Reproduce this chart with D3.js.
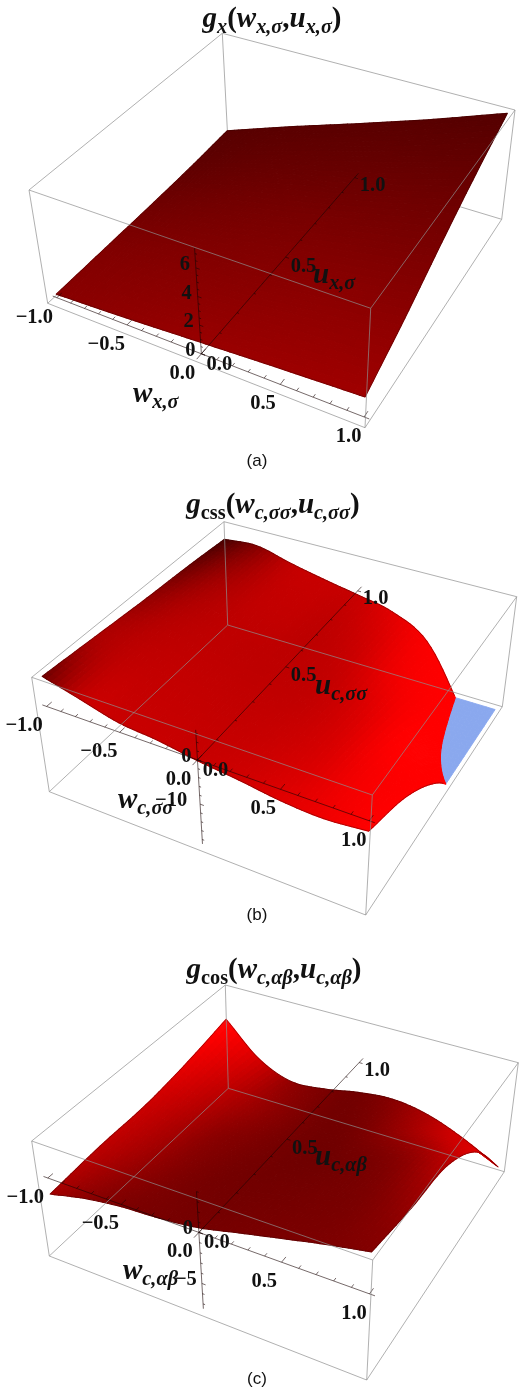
<!DOCTYPE html>
<html><head><meta charset="utf-8">
<script src="https://cdn.jsdelivr.net/npm/d3@7"></script>
<style>html,body{margin:0;padding:0;background:#fff}svg{display:block;filter:blur(.35px)}
text{font-family:"Liberation Serif",serif;font-weight:bold;fill:#111}</style></head><body>
<script>
// ---------- data ----------
const wTicks=[-1,-0.5,0,0.5,1];
const uTicks=[0,0.5,1];
const wGridCoarse=[-1,-0.5,0,0.5,1];
const wGridFine=[-1,-0.75,-0.5,-0.25,0,0.25,0.5,0.75,1];
const uGrid=[0,0.25,0.5,0.75,1];
const zTicksA=[0,2,4,6];
const zTicksB=[0,-10];
const zTicksC=[0,-5];
const surfaceA=[
 [0.25,0.5,0.8,1.1,1.36],
 [0.3,1.0,1.6,2.3,2.9],
 [0.35,1.45,2.45,3.55,4.7],
 [0.45,1.95,3.3,4.75,6.4],
 [0.65,2.4,4.1,5.9,7.9]];
const surfaceB=[
 [6.98,4.59,2.21,1.28,-0.18,-1.24,-2.56,-3.09,-2.3],
 [6.18,4.59,2.47,0.88,-0.44,-1.77,-3.09,-4.95,-7.06],
 [5.39,4.59,2.47,0.88,-0.71,-2.3,-5.21,-8.92,-15.5],
 [4.86,4.59,2.47,0.75,-0.84,-2.56,-6.27,-15,-28],
 [4.06,4.59,2.47,0.62,-0.97,-2.83,-7.59,-20.3,-34.9]];
const surfaceC=[
 [-1.61,-0.75,-0.23,0,0.46,1.38,2.3,3.22,4.03],
 [-1.2,-1.38,-1.04,-0.58,0.12,1.04,1.96,2.65,2.99],
 [-1.04,-1.73,-2.07,-1.73,-1.04,-0.12,0.81,1.73,2.3],
 [-0.35,-2.07,-2.99,-2.99,-2.42,-1.5,-0.81,-0.35,-0.81],
 [0.69,-2.65,-4.14,-3.91,-3.22,-2.88,-3.45,-4.83,-6.67]];
// ---------- styles: red level of the lit surface ----------
const shadeA=[
 [136,144,152,156,160],
 [128,132,136,140,140],
 [112,118,122,122,120],
 [96,102,104,104,102],
 [88,90,90,88,85]];
const shadeB=[
 [110,195,200,200,200,208,224,240,255],
 [170,190,195,195,195,200,215,245,255],
 [150,180,190,190,190,195,220,255,255],
 [110,160,190,195,190,205,240,255,255],
 [70,130,190,200,200,225,250,255,255]];
const shadeC=[
 [165,140,125,120,118,120,122,125,130],
 [190,160,135,120,115,115,118,125,150],
 [205,175,140,125,115,112,120,140,185],
 [235,195,155,130,115,120,150,190,225],
 [270,215,150,125,115,135,175,215,210]];
// ---------- layout ----------
const W=520,H=1389;
const wDomain=[-1.03,1.03],uDomain=[-0.026,1.026];
const I=s=>({t:s,i:1}),N=s=>({t:s}),IS=s=>({t:s,i:1,sub:1}),NS=s=>({t:s,sub:1});
const panels=[
 {top:[[29,190],[370.7,308.3],[515,110],[222.3,33.3]],
  bottom:[[47.7,303.3],[365,427.7],[501.7,219.3],[227.7,136.7]],
  zDomain:[-0.16,7.95],zAxis:[0,7.4],zMinor:0.5,zTicks:zTicksA,
  surface:surfaceA,shade:shadeA,wGrid:wGridCoarse,backOnTop:false,
  title:[I("g"),IS("x"),N("("),I("w"),IS("x,σ"),N(","),I("u"),IS("x,σ"),N(")")],
  titlePos:[272,27],
  wLabel:[I("w"),IS("x,σ")],wLabelPos:[133,402],
  uLabel:[I("u"),IS("x,σ")],uLabelPos:[313,283],
  caption:"(a)",captionY:466},
 {top:[[31.7,677.3],[372.3,795],[516.7,596.7],[224,521.7]],
  bottom:[[49.3,791.7],[365.7,915],[502.3,706.7],[227.7,625]],
  zDomain:[-19,7.5],zAxis:[-19,6.8],zMinor:2,zTicks:zTicksB,
  surface:surfaceB,shade:shadeB,wGrid:wGridFine,backOnTop:true,
  title:[I("g"),NS("css"),N("("),I("w"),IS("c,σσ"),N(","),I("u"),IS("c,σσ"),N(")")],
  titlePos:[273,513],
  wLabel:[I("w"),IS("c,σσ")],wLabelPos:[118,808],
  uLabel:[I("u"),IS("c,σσ")],uLabelPos:[315,694],
  caption:"(b)",captionY:920},
 {top:[[31.7,1141],[372.7,1260],[518.3,1062.7],[225.3,985]],
  bottom:[[49.3,1256],[366.7,1380],[504.3,1171.7],[228.3,1088.3]],
  zDomain:[-7.475,4.025],zAxis:[-7.475,4],zMinor:1,zTicks:zTicksC,
  surface:surfaceC,shade:shadeC,wGrid:wGridFine,backOnTop:true,
  title:[I("g"),NS("cos"),N("("),I("w"),IS("c,αβ"),N(","),I("u"),IS("c,αβ"),N(")")],
  titlePos:[274,978],
  wLabel:[I("w"),IS("c,αβ")],wLabelPos:[123,1279],
  uLabel:[I("u"),IS("c,αβ")],uLabelPos:[315,1165],
  caption:"(c)",captionY:1384}
];
const svg=d3.select("body").append("svg").attr("width",W).attr("height",H);
svg.append("rect").attr("width",W).attr("height",H).attr("fill","#fff");

function quadMap(q){ // unit square -> quadrilateral (perspective)
  const [[x0,y0],[x1,y1],[x2,y2],[x3,y3]]=q;
  const dx1=x1-x2,dx2=x3-x2,sx=x0-x1+x2-x3,dy1=y1-y2,dy2=y3-y2,sy=y0-y1+y2-y3;
  const den=dx1*dy2-dx2*dy1,g=(sx*dy2-dx2*sy)/den,h=(dx1*sy-sx*dy1)/den;
  const a=x1-x0+g*x1,b=x3-x0+h*x3,d=y1-y0+g*y1,e=y3-y0+h*y3;
  return (s,t)=>{const k=g*s+h*t+1;return [(a*s+b*t+x0)/k,(d*s+e*t+y0)/k];};
}
function catmull(v,x){
  const n=v.length,i=Math.max(0,Math.min(n-2,Math.floor(x))),f=x-i;
  const p1=v[i],p2=v[i+1],p0=i>0?v[i-1]:2*p1-p2,p3=i+2<n?v[i+2]:2*p2-p1;
  return 0.5*(2*p1+(p2-p0)*f+(2*p0-5*p1+4*p2-p3)*f*f+(3*p1-p0-3*p2+p3)*f*f*f);
}
function sampler(grid,wGrid){
  const wi=d3.scaleLinear().domain(wGrid).range(wGrid.map((_,i)=>i));
  const ui=d3.scaleLinear().domain(uGrid).range(uGrid.map((_,i)=>i));
  return (w,u)=>catmull(grid.map(r=>catmull(r,wi(w))),ui(u));
}
const line=d3.line();
const GRID_W=64,GRID_U=40;

panels.forEach(p=>{
  const g=svg.append("g");
  const sS=d3.scaleLinear().domain(wDomain).range([0,1]);
  const tS=d3.scaleLinear().domain(uDomain).range([0,1]);
  const rS=d3.scaleLinear().domain(p.zDomain).range([0,1]);
  const bot=quadMap(p.bottom),topq=quadMap(p.top);
  const P=(w,u,z)=>{const s=sS(w),t=tS(u),r=rS(z),a=bot(s,t),b=topq(s,t);
    return [a[0]+(b[0]-a[0])*r,a[1]+(b[1]-a[1])*r];};
  const zAt=sampler(p.surface,p.wGrid),shadeAt=sampler(p.shade,p.wGrid);
  const zMin=p.zDomain[0];
  const color=s=>{const c=Math.round(Math.min(255,Math.max(0,s))),e=Math.round(Math.max(0,s-255));return `rgb(${c},${e},${e})`;};

  const boxStyle=(sel,op)=>sel.attr("fill","none").attr("stroke","#8f8f8f").attr("stroke-opacity",op).attr("stroke-width",1);
  const [L,F,R,B]=[0,1,2,3];
  const edge=(a,b)=>line([a,b]);
  const backEdges=[[p.top[B],p.bottom[B]],[p.bottom[L],p.bottom[B]],[p.bottom[B],p.bottom[R]]];
  const otherBehind=[[p.top[L],p.top[B]],[p.top[B],p.top[R]],[p.top[R],p.bottom[R]],[p.top[L],p.bottom[L]],
                     [p.bottom[L],p.bottom[F]],[p.bottom[F],p.bottom[R]]];
  const frontEdges=[[p.top[L],p.top[F]],[p.top[F],p.top[R]],[p.top[F],p.bottom[F]]];
  g.append("g").selectAll("path").data(otherBehind.concat(p.backOnTop?[]:backEdges)).join("path").attr("d",d=>edge(d[0],d[1])).call(boxStyle,0.7);

  // surface mesh, back to front; each cell is cut where the surface leaves the box floor
  const wS=d3.range(GRID_W+1).map(i=>-1+2*i/GRID_W),uS=d3.range(GRID_U+1).map(i=>1-i/GRID_U);
  const below=[],above=[];
  for(let j=0;j<GRID_U;j++)for(let i=0;i<GRID_W;i++){
    const w0=wS[i],w1=wS[i+1],u0=uS[j],u1=uS[j+1];
    const c=[[w0,u0],[w1,u0],[w1,u1],[w0,u1]].map(q=>[q[0],q[1],zAt(q[0],q[1])]);
    const up=[],down=[];
    c.forEach((a,k)=>{
      const b=c[(k+1)%4];
      if(a[2]>=zMin)up.push(a);else down.push(a);
      if((a[2]>=zMin)!==(b[2]>=zMin)){
        const f=(zMin-a[2])/(b[2]-a[2]),m=[a[0]+(b[0]-a[0])*f,a[1]+(b[1]-a[1])*f,zMin];
        up.push(m);down.push(m);
      }
    });
    const fill=color(shadeAt((w0+w1)/2,(u0+u1)/2));
    if(down.length>2)below.push({pts:down.map(q=>P(q[0],q[1],zMin)),fill:"#8aa8ee",sw:0.9});
    if(up.length>2)above.push({pts:up.map(q=>P(q[0],q[1],q[2])),fill,sw:1.1});
  }
  g.append("g").selectAll("path").data(below.concat(above)).join("path")
    .attr("d",d=>line(d.pts)+"Z").attr("fill",d=>d.fill).attr("stroke",d=>d.fill).attr("stroke-width",d=>d.sw).attr("stroke-linejoin","round");

  // dark rim of the surface
  const rim=[wS.map(w=>[w,0]),wS.map(w=>[w,1]),uS.map(u=>[-1,u]),uS.map(u=>[1,u])];
  g.append("g").selectAll("path").data(rim).join("path")
    .attr("d",d=>line(d.filter(q=>zAt(q[0],q[1])>=zMin).map(q=>P(q[0],q[1],zAt(q[0],q[1])))))
    .attr("fill","none").attr("stroke","#300000").attr("stroke-opacity",0.5).attr("stroke-width",0.7);

  // axes
  const axisCol="#1a0505";
  const ax=g.append("g").attr("fill","none").attr("stroke",axisCol).attr("stroke-width",0.8).attr("stroke-opacity",0.75);
  ax.append("path").attr("d",line([P(-1.03,0,0),P(1.03,0,0)]));
  ax.append("path").attr("d",line([P(0,-0.025,0),P(0,1.03,0)]));
  ax.append("path").attr("d",line([P(0,0,p.zAxis[0]),P(0,0,p.zAxis[1])]));
  const wMinor=d3.range(-10,11).map(d=>d/10),uMinor=d3.range(0,11).map(d=>d/10);
  const zm=d3.range(Math.ceil(p.zAxis[0]/p.zMinor),Math.floor(p.zAxis[1]/p.zMinor)+1).map(d=>d*p.zMinor);
  ax.selectAll(".tw").data(wMinor).join("path").attr("class","tw")
    .attr("d",d=>line([P(d,0,0),P(d,wTicks.includes(d)?0.024:0.013,0)]));
  ax.selectAll(".tu").data(uMinor).join("path").attr("class","tu")
    .attr("d",d=>line([P(0,d,0),P(uTicks.includes(d)?0.024:0.013,d,0)]));
  ax.selectAll(".tz").data(zm).join("path").attr("class","tz")
    .attr("d",d=>line([P(0,0,d),P(p.zTicks.includes(d)?0.024:0.013,0,d)]));

  // box edges in front of the surface
  g.append("g").selectAll("path").data(frontEdges.concat(p.backOnTop?backEdges:[])).join("path").attr("d",d=>edge(d[0],d[1])).call(boxStyle,0.7);

  // tick labels
  const fmt=d3.format(".1f"),minus=s=>String(s).replace("-","\u2212");
  const label=(txt,pt,dx,dy)=>g.append("text").attr("x",pt[0]+dx).attr("y",pt[1]+dy).attr("text-anchor","middle").attr("font-size",20.5).text(minus(txt));
  wTicks.forEach(v=>label(fmt(v),P(v,0,0),-19+3.5*v,25));
  uTicks.forEach(v=>label(fmt(v),P(0,v,0),18,13+(1-v)*3));
  p.zTicks.forEach(v=>label(v,P(0,0,v),[-11,-16,-29][String(v).length-1],2));

  // rich text
  const rich=(segs,pos,size,anchor)=>{
    const t=g.append("text").attr("x",pos[0]).attr("y",pos[1]).attr("font-size",size).attr("text-anchor",anchor);
    let off=0;
    segs.forEach(s=>{
      const target=s.sub?size*0.2:0;
      t.append("tspan").attr("dy",target-off).attr("font-size",s.sub?size*0.7:size)
       .attr("font-style",s.i?"italic":"normal").text(s.t);
      off=target;
    });
  };
  rich(p.title,p.titlePos,29,"middle");
  rich(p.wLabel,p.wLabelPos,29,"start");
  rich(p.uLabel,p.uLabelPos,29,"start");
  g.append("text").attr("x",257).attr("y",p.captionY).attr("text-anchor","middle")
   .attr("font-size",17).style("font-family","'Liberation Sans',sans-serif").style("font-weight","normal").text(p.caption);
});
</script></body></html>
